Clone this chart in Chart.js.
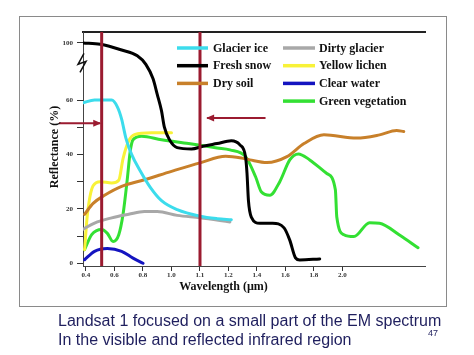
<!DOCTYPE html>
<html><head><meta charset="utf-8">
<script src="https://cdn.jsdelivr.net/npm/chart.js@4"></script>
<style>
html,body{margin:0;padding:0;background:#fff;}
#wrap{position:relative;width:474px;height:355px;overflow:hidden;background:#fff;}
#frame{position:absolute;left:19px;top:16px;width:426px;height:289px;border:1px solid #8a8a8a;}
canvas{position:absolute;left:0;top:0;}
.cap{position:absolute;left:58px;font:16px "Liberation Sans",Arial,sans-serif;color:#1f1f5e;line-height:19px;white-space:nowrap;}
.pg{position:absolute;left:428px;top:328px;font:9px "Liberation Sans",Arial,sans-serif;color:#1f1f5e;}
</style></head>
<body><div id="wrap"><div id="frame"></div><canvas id="c" width="474" height="355"></canvas>
<div class="cap" style="top:311px">Landsat 1 focused on a small part of the EM spectrum<br>In the visible and reflected infrared region</div>
<div class="pg">47</div>
</div>
<script>
// ---- tick labels (as printed on the figure) ----
const xTickValues = [0.4, 0.6, 0.8, 1.0, 1.1, 1.2, 1.4, 1.6, 1.8, 2.0];
const xTickLabels = ['0.4', '0.6', '0.8', '1.0', '1.1', '1.2', '1.4', '1.6', '1.8', '2.0'];
const yTickValues = [0, 10, 20, 30, 40, 50, 60, 100];
const yTickLabels = ['0', '', '20', '', '40', '', '60', '100'];

// ---- series (wavelength in µm as labelled, reflectance in %) ----
const seriesNames = ['Glacier ice', 'Fresh snow', 'Dry soil', 'Dirty glacier', 'Yellow lichen', 'Clear water', 'Green vegetation'];

const glacierIceW = [0.38, 0.46, 0.58, 0.62, 0.65, 0.68, 0.72, 0.78, 0.85, 0.93, 1.02, 1.1, 1.16, 1.22];
const glacierIceR = [59, 60, 60, 57.5, 53, 46, 40, 34, 28, 23, 19.7, 17.3, 16.4, 16];

const freshSnowW = [0.38, 0.5, 0.65, 0.76, 0.82, 0.87, 0.9, 0.93, 0.95, 0.99, 1.02, 1.07, 1.11, 1.16, 1.22, 1.28, 1.32, 1.33, 1.34, 1.36, 1.42, 1.51, 1.59, 1.63, 1.67, 1.7, 1.84];
const freshSnowR = [100, 99, 95, 91, 85, 75, 64, 56, 50, 45, 42.5, 42, 43, 44, 45, 43.5, 39, 33, 23, 17, 14.7, 14.7, 13, 8.5, 2, 1.2, 1.6];

const drySoilW = [0.39, 0.45, 0.53, 0.65, 0.81, 1.0, 1.1, 1.19, 1.29, 1.35, 1.47, 1.61, 1.73, 1.87, 2.1, 2.26, 2.38, 2.43];
const drySoilR = [18, 22, 25, 28.3, 30.7, 33.8, 36.9, 39.3, 38.7, 38, 37, 39.2, 44, 47.2, 46, 47.2, 48.8, 48.4];

const dirtyGlacierW = [0.38, 0.46, 0.58, 0.7, 0.81, 0.9, 1.02, 1.1, 1.21];
const dirtyGlacierR = [12.5, 14.8, 16.7, 18, 19, 19, 17.6, 16.7, 15.2];

const yellowLichenW = [0.39, 0.41, 0.45, 0.5, 0.58, 0.63, 0.66, 0.7, 0.74, 0.86, 1.0];
const yellowLichenR = [5, 18, 28.5, 30, 29.5, 30.5, 38.5, 45, 47.3, 48, 48];

const clearWaterW = [0.39, 0.46, 0.55, 0.65, 0.73, 0.8];
const clearWaterR = [1.3, 4.4, 5.4, 4.4, 1.9, 0];

const greenVegW = [0.39, 0.44, 0.51, 0.55, 0.59, 0.63, 0.66, 0.69, 0.71, 0.73, 0.79, 0.93, 1.06, 1.16, 1.21, 1.32, 1.39, 1.43, 1.49, 1.56, 1.63, 1.69, 1.77, 1.89, 1.95, 1.96, 2.01, 2.08, 2.19, 2.26, 2.4, 2.53];
const greenVegR = [5, 10.5, 12.4, 11, 8, 10.5, 18, 31, 41, 45.4, 46.7, 45.4, 44, 42.4, 41.7, 39.2, 31.8, 26.3, 25, 30, 38, 40.2, 38, 33, 27, 17, 10.5, 9.8, 14.9, 14.7, 10.4, 5.7];

// Landsat band edges (µm, as labelled)
const bandEdges = [0.51, 1.1];

const seriesColors = ['#3cdcec', '#000000', '#c8802a', '#a8a8a8', '#f8f238', '#1414c0', '#33e033'];

// ---- axis mappings: printed tick labels are unevenly spaced, and the y axis has a break above 60 ----
function xPos(w) {
  const t = xTickValues, n = t.length;
  if (w <= t[0]) return (w - t[0]) / (t[1] - t[0]);
  if (w >= t[n - 1]) return (n - 1) + (w - t[n - 1]) / (t[n - 1] - t[n - 2]);
  for (let i = 0; i < n - 1; i++) if (w <= t[i + 1]) return i + (w - t[i]) / (t[i + 1] - t[i]);
}
function yPos(v) { return v <= 60 ? v : 60 + (v - 60) * 21 / 40; }
function pts(ws, rs) { return ws.map((w, i) => ({ x: xPos(w), y: yPos(rs[i]) })); }

const seriesW = [glacierIceW, freshSnowW, drySoilW, dirtyGlacierW, yellowLichenW, clearWaterW, greenVegW];
const seriesR = [glacierIceR, freshSnowR, drySoilR, dirtyGlacierR, yellowLichenR, clearWaterR, greenVegR];

const X_MIN = -0.105, X_MAX = 11.895, Y_MIN = -1, Y_MAX = 85;
const RED = '#9b1b30';

const datasets = [];
bandEdges.forEach(b => datasets.push({
  label: 'band', data: [{ x: xPos(b), y: Y_MIN }, { x: xPos(b), y: Y_MAX }],
  borderColor: RED, borderWidth: 3, pointRadius: 0, order: -1, tension: 0
}));
seriesNames.forEach((n, i) => datasets.push({
  label: n, data: pts(seriesW[i], seriesR[i]),
  borderColor: seriesColors[i], borderWidth: 3, pointRadius: 0,
  cubicInterpolationMode: 'monotone', borderCapStyle: 'round', borderJoinStyle: 'round'
}));

const serif = '"Liberation Serif","Times New Roman",serif';

const deco = {
  id: 'deco',
  afterDatasetsDraw(chart) {
    const { ctx, chartArea: ca, scales } = chart;
    const xs = scales.x, ys = scales.y;
    ctx.save();
    // axis break zigzag
    const cy = ys.getPixelForValue(73.5), lx = ca.left;
    ctx.strokeStyle = '#111'; ctx.lineWidth = 1.5; ctx.lineJoin = 'miter';
    ctx.beginPath();
    ctx.moveTo(lx + 1, cy - 10); ctx.lineTo(lx - 5, cy + 1); ctx.lineTo(lx + 3, cy - 2); ctx.lineTo(lx - 3, cy + 9);
    ctx.stroke();
    // arrows
    function arrow(x1, x2, y) {
      ctx.strokeStyle = RED; ctx.fillStyle = RED; ctx.lineWidth = 2;
      ctx.beginPath(); ctx.moveTo(x1, y); ctx.lineTo(x2, y); ctx.stroke();
      const d = Math.sign(x2 - x1);
      ctx.beginPath(); ctx.moveTo(x2 + d * 1, y); ctx.lineTo(x2 - d * 7, y - 3.5); ctx.lineTo(x2 - d * 7, y + 3.5); ctx.closePath(); ctx.fill();
    }
    arrow(xs.getPixelForValue(xPos(0.21)), xs.getPixelForValue(xPos(0.5)), ys.getPixelForValue(51.5));
    arrow(xs.getPixelForValue(xPos(1.46)), xs.getPixelForValue(xPos(1.125)), ys.getPixelForValue(53.4));
    // legend
    const order = [[0, 1, 2], [3, 4, 5, 6]];
    const cols = [{ l0: 177, l1: 208, t: 213 }, { l0: 283, l1: 315, t: 319 }];
    ctx.font = 'bold 12px ' + serif; ctx.textBaseline = 'middle'; ctx.textAlign = 'left';
    order.forEach((col, c) => col.forEach((si, r) => {
      const y = 48 + r * 17.7;
      ctx.strokeStyle = seriesColors[si]; ctx.lineWidth = 3.5; ctx.lineCap = 'butt';
      ctx.beginPath(); ctx.moveTo(cols[c].l0, y); ctx.lineTo(cols[c].l1, y); ctx.stroke();
      ctx.fillStyle = '#111'; ctx.fillText(seriesNames[si], cols[c].t, y + 0.5);
    }));
    // axis titles
    ctx.fillStyle = '#111'; ctx.font = 'bold 12px ' + serif; ctx.textAlign = 'center';
    ctx.fillText('Wavelength (µm)', 223.5, 287);
    ctx.translate(55, 147); ctx.rotate(-Math.PI / 2);
    ctx.fillText('Reflectance (%)', 0, 0);
    ctx.restore();
  }
};

const tickFont = { family: serif, size: 7, weight: 'bold' };
new Chart(document.getElementById('c'), {
  type: 'line',
  data: { datasets },
  options: {
    responsive: false, animation: false, devicePixelRatio: 1,
    layout: { padding: { left: 0, right: 49, top: 32, bottom: 59 } },
    plugins: { legend: { display: false }, tooltip: { enabled: false } },
    scales: {
      x: {
        type: 'linear', position: 'bottom', min: X_MIN, max: X_MAX,
        afterFit(s) { s.height = 30; },
        afterBuildTicks(s) { s.ticks = xTickValues.map((_, i) => ({ value: i })); },
        ticks: { callback: (v, i) => xTickLabels[i], font: tickFont, color: '#333', padding: 0, maxRotation: 0, autoSkip: false },
        grid: { drawOnChartArea: false, tickLength: 5, color: '#333' },
        border: { color: '#444', width: 1 }
      },
      x2: {
        type: 'linear', position: 'top', min: X_MIN, max: X_MAX,
        afterFit(s) { s.height = 0; },
        ticks: { display: false }, grid: { display: false },
        border: { display: true, color: '#222', width: 2 }
      },
      y: {
        type: 'linear', min: Y_MIN, max: Y_MAX,
        afterFit(s) { s.width = 83; },
        afterBuildTicks(s) { s.ticks = yTickValues.map(v => ({ value: yPos(v) })); },
        ticks: { callback: (v, i) => yTickLabels[i], font: tickFont, color: '#333', padding: 4, autoSkip: false },
        grid: { drawOnChartArea: false, tickLength: 6, color: '#333' },
        border: { color: '#444', width: 1 }
      }
    }
  },
  plugins: [deco]
});
</script>
</body></html>
